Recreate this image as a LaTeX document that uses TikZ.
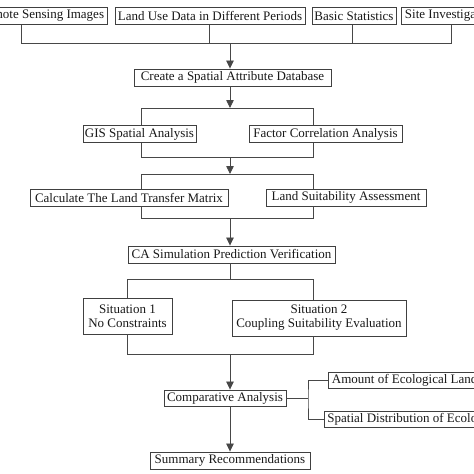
\documentclass[tikz,border=0pt]{standalone}
\usepackage{fontspec}
\setmainfont{Liberation Serif}
\usetikzlibrary{arrows.meta}
\begin{document}
\begin{tikzpicture}[x=1pt,y=-1pt,
  box/.style={draw=black!75,line width=0.9pt,fill=white,inner sep=0pt,
    minimum height=16.5pt,font=\fontsize{13}{14}\selectfont,align=center,text=black!90},
  edgebox/.style={box,inner xsep=3.5pt},
  conn/.style={draw=black!72,line width=0.8pt},
  arr/.style={conn,-{Triangle[width=7.5pt,length=8pt]}}]
\useasboundingbox (0,0) rectangle (474,474);
\clip (0,0) rectangle (474,474);
\fill[white] (0,0) rectangle (474,474);

% top row
\node[edgebox,anchor=east] (rs) at (108,16) {Remote Sensing Images};
\node[box,minimum width=190pt] (lu) at (210,16) {Land Use Data in Different Periods};
\node[box,minimum width=84pt] (bs) at (354,16) {Basic Statistics};
\node[edgebox,anchor=west] (si) at (401,16) {Site Investigation};

\node[box,minimum width=197pt,minimum height=17pt] (db) at (232.5,77.5) {Create a Spatial Attribute Database};

\node[box,minimum width=113pt] (gis) at (139.5,134) {GIS Spatial Analysis};
\node[box,minimum width=153pt] (fca) at (325.5,134) {Factor Correlation Analysis};

\node[box,minimum width=198pt,minimum height=17pt] (calc) at (129,197.5) {Calculate The Land Transfer Matrix};
\node[box,minimum width=160pt,minimum height=17pt] (lsa) at (346,197.5) {Land Suitability Assessment};

\node[box,minimum width=207pt,minimum height=17pt] (ca) at (231.5,254.5) {CA Simulation Prediction Verification};

\node[box,minimum width=89pt,minimum height=36pt] (s1) at (127.5,316) {Situation 1\\No Constraints};
\node[box,minimum width=174pt,minimum height=36pt] (s2) at (319,318) {Situation 2\\Coupling Suitability Evaluation};

\node[box,minimum width=122pt,minimum height=16pt] (comp) at (225,398) {Comparative Analysis};
\node[edgebox,anchor=west,minimum height=16pt] (amt) at (328,380) {Amount of Ecological Land};
\node[edgebox,anchor=west,minimum height=16pt,inner xsep=3pt] (sd) at (324,419) {Spatial Distribution of Ecological Land};

\node[box,minimum width=160pt,minimum height=17pt] (sum) at (230,460.5) {Summary Recommendations};

% junction coordinates
\coordinate (j1) at (230,43);
\coordinate (j2) at (230,108);
\coordinate (j3) at (230,157);
\coordinate (j4) at (230,174);
\coordinate (j5) at (230,218);
\coordinate (j6) at (230,279);
\coordinate (j7) at (230,354);
\coordinate (j8) at (308,398);

% top merge
\draw[conn] (rs.south -| 21,0) -- (21,43) -- (451,43) -- (si.south -| 451,0);
\draw[conn] (lu.south -| 209,0) -- (209,43);
\draw[conn] (bs.south -| 352,0) -- (352,43);
\draw[arr] (j1) -- (db.north -| j1);

% db to split
\draw[arr] (db.south -| j2) -- (j2);
\draw[conn] (gis.north -| 141,0) -- (141,108) -- (313,108) -- (fca.north -| 313,0);

% gis/fca merge
\draw[conn] (gis.south -| 141,0) -- (141,157) -- (313,157) -- (fca.south -| 313,0);
\draw[arr] (j3) -- (j4);
\draw[conn] (calc.north -| 141,0) -- (141,174) -- (313,174) -- (lsa.north -| 313,0);

% calc/lsa merge
\draw[conn] (calc.south -| 141,0) -- (141,218) -- (313,218) -- (lsa.south -| 313,0);
\draw[arr] (j5) -- (ca.north -| j5);

% ca split
\draw[conn] (ca.south -| j6) -- (j6);
\draw[conn] (s1.north -| 127,0) -- (127,279) -- (313,279) -- (s2.north -| 313,0);

% s1/s2 merge
\draw[conn] (s1.south -| 127,0) -- (127,354) -- (313,354) -- (s2.south -| 313,0);
\draw[arr] (j7) -- (comp.north -| j7);

% comparative branches
\draw[conn] (comp.east) -- (j8);
\draw[conn] (amt.west) -| (j8) |- (sd.west);

% summary
\draw[arr] (comp.south -| j7) -- (sum.north -| j7);
\end{tikzpicture}
\end{document}
